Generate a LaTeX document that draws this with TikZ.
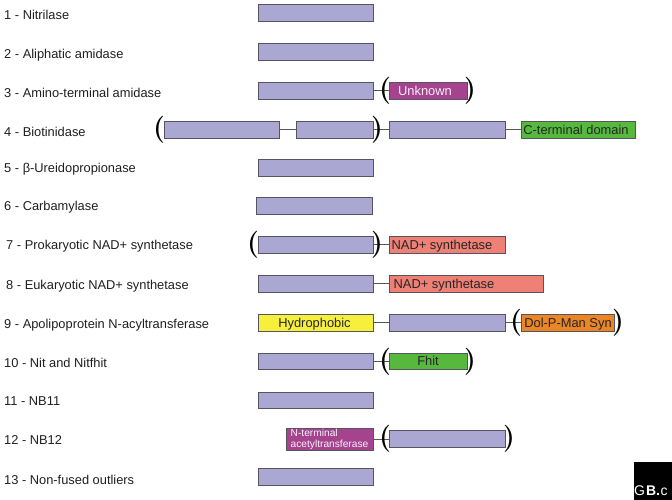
\documentclass[tikz,border=0pt]{standalone}
\usepackage{fontspec}
\setmainfont{Liberation Sans}
\newfontfamily\parfont{Latin Modern Roman}
\definecolor{dom}{HTML}{ABA7D3}
\definecolor{edgec}{HTML}{55555F}
\definecolor{mag}{HTML}{A5438F}
\definecolor{grn}{HTML}{57B83E}
\definecolor{sal}{HTML}{EE8076}
\definecolor{yel}{HTML}{F6F03C}
\definecolor{org}{HTML}{EC8526}
\newcommand{\bx}[7][]{% style; name; x1; y1; x2; y2; text
  \pgfmathsetmacro{\mycx}{(#3+#5)/2}\pgfmathsetmacro{\mycy}{(#4+#6)/2}%
  \pgfmathsetmacro{\myw}{#5-#3}\pgfmathsetmacro{\myh}{#6-#4}%
  \node[box,#1,minimum width=\myw pt,minimum height=\myh pt] (#2) at (\mycx,\mycy) {#7};}
\tikzset{
  box/.style={draw=edgec,line width=0.9pt,fill=dom,inner sep=0pt,outer sep=0pt,text height=9.2pt,text depth=0pt,font=\fontsize{12.9}{13}\selectfont,text=black!85},
  magb/.style={fill=mag,text=white!92!mag},
  grnb/.style={fill=grn},
  salb/.style={fill=sal},
  yelb/.style={fill=yel},
  orgb/.style={fill=org},
  lab/.style={anchor=west,inner sep=0pt,font=\fontsize{12.85}{14}\selectfont,text=black!88},
  par/.style={inner sep=0pt,font=\parfont\bfseries\fontsize{27}{27}\selectfont,text=black},
  link/.style={draw=edgec,line width=0.9pt}
}
\begin{document}
\begin{tikzpicture}[x=1pt,y=-1pt]
\useasboundingbox (0,0) rectangle (672,500);
\node[lab] (l1) at (4,14.5) {1 - Nitrilase};
\node[lab] (l2) at (4,55) {2 - Aliphatic amidase};
\node[lab] (l3) at (4,92.5) {3 - Amino-terminal amidase};
\node[lab] (l4) at (4,131.5) {4 - Biotinidase};
\node[lab] (l5) at (4,169) {5 - β-Ureidopropionase};
\node[lab] (l6) at (4,207) {6 - Carbamylase};
\node[lab] (l7) at (6,246.5) {7 - Prokaryotic NAD+ synthetase};
\node[lab] (l8) at (6,286) {8 - Eukaryotic NAD+ synthetase};
\node[lab] (l9) at (4,325) {9 - Apolipoprotein N-acyltransferase};
\node[lab] (l10) at (4,363) {10 - Nit and Nitfhit};
\node[lab] (l11) at (4,401) {11 - NB11};
\node[lab] (l12) at (4,440) {12 - NB12};
\node[lab] (l13) at (4,480) {13 - Non-fused outliers};
\bx{a1}{258}{4}{373}{21}{}
\bx{a2}{258}{43}{373}{60}{}
\bx{a3}{258}{82}{373}{99}{}
\bx[magb]{b3}{389}{82}{467}{99}{\hspace*{-6pt}Unknown}
\bx{a4}{164}{121}{279}{138}{}
\bx{b4}{296}{121}{373}{138}{}
\bx{c4}{389}{121}{505}{138}{}
\bx[grnb]{d4}{521}{121}{635}{138}{\hspace*{-4pt}C-terminal domain}
\bx{a5}{258}{159}{373}{176}{}
\bx{a6}{256}{197}{372}{214}{}
\bx{a7}{258}{236}{373}{253}{}
\bx[salb]{b7}{389}{236}{505}{253}{\hspace*{-10pt}NAD+ synthetase}
\bx{a8}{258}{275}{373}{292}{}
\bx[salb]{b8}{389}{275}{543}{292}{\hspace*{-44pt}NAD+ synthetase}
\bx[yelb]{a9}{258}{314}{373}{331}{\hspace*{-2pt}Hydrophobic}
\bx{b9}{389}{314}{505}{331}{}
\bx[orgb]{c9}{521}{314}{614}{331}{\hspace*{1pt}Dol-P-Man Syn}
\bx{a10}{258}{353}{373}{369}{}
\bx[grnb]{b10}{389}{353}{467}{369}{Fhit}
\bx{a11}{258}{392}{373}{408}{}
\bx[magb,text height=16pt,font=\fontsize{10.2}{10.5}\selectfont]{a12}{286}{428}{373}{450}{\shortstack[l]{N-terminal\\acetyltransferase}}
\bx{b12}{389}{430}{505}{447}{}
\bx{a13}{258}{468}{373}{485}{}
\draw[link] (a3) -- (b3);
\draw[link] (a4) -- (b4);
\draw[link] (b4) -- (c4);
\draw[link] (c4) -- (d4);
\draw[link] (a7) -- (b7);
\draw[link] (a8) -- (b8);
\draw[link] (a9) -- (b9);
\draw[link] (b9) -- (c9);
\draw[link] (a10) -- (b10);
\draw[link] (a12.east) -- (b12.west |- a12.east);
\node[par] (p3l) at (385,91) {(};
\node[par] (p3r) at (470,91) {)};
\node[par] (p4l) at (159,130) {(};
\node[par] (p4r) at (377,130) {)};
\node[par] (p7l) at (253,245) {(};
\node[par] (p7r) at (377,245) {)};
\node[par] (p9l) at (516,323) {(};
\node[par] (p9r) at (618,323) {)};
\node[par] (p10l) at (385,362) {(};
\node[par] (p10r) at (470,362) {)};
\node[par] (p12l) at (385,439) {(};
\node[par] (p12r) at (509,439) {)};
\fill[black] (634,462) rectangle (672,500);
\begin{scope}
\clip (634,462) rectangle (672,500);
\node[anchor=base west,inner sep=0pt,text=white,font=\fontsize{14}{14}\selectfont] (logo) at (634,495) {G\kern1pt\textbf{B.}\kern0.5pt c};
\end{scope}
\end{tikzpicture}
\end{document}
